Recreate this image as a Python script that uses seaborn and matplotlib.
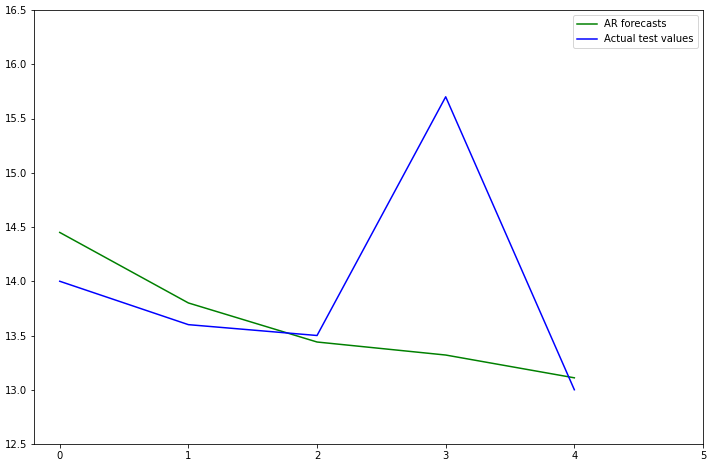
import seaborn as sns
import matplotlib.pyplot as plt
import pandas as pd

# forecasts vs actual test values
steps = [0, 1, 2, 3, 4]
ar_forecasts = [14.45, 13.80, 13.44, 13.32, 13.11]
actual_values = [14.0, 13.6, 13.5, 15.7, 13.0]

df = pd.DataFrame({'step': steps, 'forecast': ar_forecasts, 'actual': actual_values})

fig = plt.figure(figsize=(709 / 72, 464 / 72), dpi=72)
ax = fig.add_axes([34 / 709, 20 / 464, 669 / 709, 434 / 464])

sns.lineplot(x='step', y='forecast', data=df, color='green', label='AR forecasts', ax=ax)
sns.lineplot(x='step', y='actual', data=df, color='blue', label='Actual test values', ax=ax)

ax.set_xlim(-0.2, 5)
ax.set_ylim(12.5, 16.5)
ax.set_xticks([0, 1, 2, 3, 4, 5])
ax.set_yticks([12.5, 13.0, 13.5, 14.0, 14.5, 15.0, 15.5, 16.0, 16.5])
ax.set_xlabel('')
ax.set_ylabel('')
ax.legend(loc='upper right')

fig.savefig('out.png', dpi=72)
